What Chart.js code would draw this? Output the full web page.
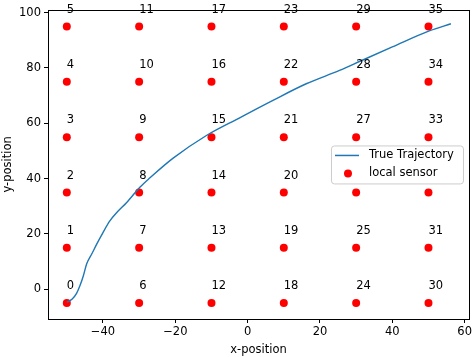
<!DOCTYPE html>
<html>
<head>
<meta charset="utf-8">
<script src="https://cdn.jsdelivr.net/npm/chart.js@4/dist/chart.umd.min.js"></script>
<style>
html,body{margin:0;padding:0;background:#fff;}
#wrap{width:474px;height:357px;}
</style>
</head>
<body>
<div id="wrap"><canvas id="c" width="474" height="357"></canvas></div>
<script>
// Trajectory
const trajX = [-50, -48.5, -47.3, -46.3, -45.4, -44.5, -43, -41.7, -40, -38.1, -36, -33.5, -29.8, -27, -20.6, -11.4, -2.2, 7, 16.2, 25.4, 31.7, 40, 50.2, 56.2];
const trajY = [-4.7, -3.5, -1.5, 1.5, 5, 9.2, 13, 16.4, 20.5, 24.7, 28, 31.3, 36.9, 40.3, 47.4, 55.6, 62, 68.3, 74.3, 79.1, 82.8, 87.6, 93.4, 96];
// Sensor grid
const gridX = [-50, -30, -10, 10, 30, 50];
const gridY = [-5, 15, 35, 55, 75, 95];
const sensorIds = [0,1,2,3,4,5,6,7,8,9,10,11,12,13,14,15,16,17,18,19,20,21,22,23,24,25,26,27,28,29,30,31,32,33,34,35];
// Tick labels
const xTicks = [-40, -20, 0, 20, 40, 60];
const yTicks = [0, 20, 40, 60, 80, 100];
const seriesNames = ['True Trajectory', 'local sensor'];

const trajData = trajX.map((x, i) => ({x: x, y: trajY[i]}));
const sensorData = sensorIds.map(id => ({x: gridX[Math.floor(id / 6)], y: gridY[id % 6], id: id}));

const FONT = 'DejaVu Sans';
const FS = 11.5;
Chart.defaults.font.family = FONT;
Chart.defaults.font.size = FS;
Chart.defaults.color = '#000';

const framePlugin = {
  id: 'frame',
  afterDatasetsDraw(chart) {
    const ctx = chart.ctx;
    const xs = chart.scales.x, ys = chart.scales.y;
    ctx.save();
    ctx.font = FS + 'px ' + FONT;
    ctx.fillStyle = '#000';
    ctx.textAlign = 'left';
    ctx.textBaseline = 'alphabetic';
    sensorData.forEach(p => {
      ctx.fillText(String(p.id), xs.getPixelForValue(p.x), ys.getPixelForValue(p.y + 5));
    });
    ctx.restore();
  },
  afterDraw(chart) {
    const ctx = chart.ctx, a = chart.chartArea;
    ctx.save();
    ctx.strokeStyle = '#000';
    ctx.lineWidth = 1;
    ctx.strokeRect(Math.round(a.left) + 0.5, Math.round(a.top) + 0.5, Math.round(a.right - a.left), Math.round(a.bottom - a.top));
    // legend
    const bx = a.right - 138, by = (a.top + a.bottom) / 2 - 19, bw = 132, bh = 38;
    ctx.fillStyle = '#ffffff';
    ctx.strokeStyle = '#cccccc';
    ctx.lineWidth = 1;
    ctx.beginPath();
    if (ctx.roundRect) ctx.roundRect(bx + 0.5, by + 0.5, bw, bh, 3); else ctx.rect(bx + 0.5, by + 0.5, bw, bh);
    ctx.fill();
    ctx.stroke();
    const ds = chart.data.datasets;
    ctx.strokeStyle = ds[0].borderColor;
    ctx.lineWidth = 1.5;
    ctx.beginPath();
    ctx.moveTo(bx + 4, by + 10);
    ctx.lineTo(bx + 28, by + 10);
    ctx.stroke();
    ctx.fillStyle = ds[1].backgroundColor;
    ctx.beginPath();
    ctx.arc(bx + 17, by + 28, 4, 0, Math.PI * 2);
    ctx.fill();
    ctx.fillStyle = '#000';
    ctx.font = FS + 'px ' + FONT;
    ctx.textBaseline = 'middle';
    ctx.textAlign = 'left';
    ctx.fillText(ds[0].label, bx + 38, by + 10);
    ctx.fillText(ds[1].label, bx + 38, by + 28);
    ctx.restore();
  }
};

new Chart(document.getElementById('c'), {
  type: 'scatter',
  data: {
    datasets: [
      {
        type: 'line',
        label: seriesNames[0],
        data: trajData,
        borderColor: '#1f77b4',
        borderWidth: 1.4,
        pointRadius: 0,
        fill: false,
        cubicInterpolationMode: 'monotone'
      },
      {
        label: seriesNames[1],
        data: sensorData,
        backgroundColor: '#ff0000',
        borderColor: '#ff0000',
        pointRadius: 4,
        borderWidth: 0
      }
    ]
  },
  options: {
    responsive: false,
    animation: false,
    layout: {padding: {left: 0, right: 4, top: 7, bottom: 0}},
    plugins: {legend: {display: false}, tooltip: {enabled: false}},
    scales: {
      x: {
        type: 'linear',
        min: -55.2,
        max: 61.2,
        afterBuildTicks(s) { s.ticks = xTicks.map(v => ({value: v})); },
        afterFit(s) { s.height = 38; },
        grid: {display: true, drawOnChartArea: false, drawTicks: true, tickLength: 4, color: '#000'},
        border: {display: false},
        ticks: {padding: 2, maxRotation: 0, autoSkip: false, callback: v => (v < 0 ? '\u2212' + Math.abs(v) : String(v))},
        title: {display: true, text: 'x-position', padding: {top: 2, bottom: 0}}
      },
      y: {
        type: 'linear',
        min: -10.75,
        max: 101,
        afterBuildTicks(s) { s.ticks = yTicks.map(v => ({value: v})); },
        afterFit(s) { s.width = 48; },
        grid: {display: true, drawOnChartArea: false, drawTicks: true, tickLength: 4, color: '#000'},
        border: {display: false},
        ticks: {padding: 3, autoSkip: false},
        title: {display: true, text: 'y-position', padding: {top: 1.5, bottom: 2}}
      }
    }
  },
  plugins: [framePlugin]
});
</script>
</body>
</html>
